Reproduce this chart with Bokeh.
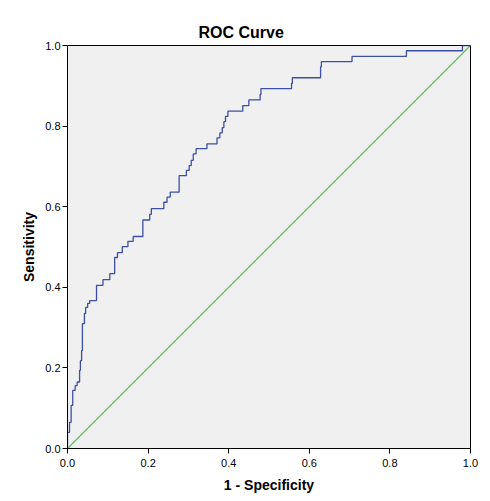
from bokeh.plotting import figure
from bokeh.models import Range1d, FixedTicker, NumeralTickFormatter
from bokeh.embed import file_html
from bokeh.resources import INLINE

# ROC curve corner points (1 - specificity, sensitivity)
fpr = [0, 0, 0.005, 0.005, 0.009, 0.009, 0.013, 0.013, 0.019, 0.019, 0.024, 0.024,
       0.03, 0.03, 0.032, 0.032, 0.035, 0.035, 0.037, 0.037, 0.042, 0.042, 0.045, 0.045,
       0.05, 0.05, 0.055, 0.055, 0.072, 0.072, 0.088, 0.088, 0.105, 0.105, 0.117, 0.117,
       0.124, 0.124, 0.136, 0.136, 0.150, 0.150, 0.163, 0.163, 0.187, 0.187, 0.204, 0.204,
       0.208, 0.208, 0.239, 0.239, 0.247, 0.247, 0.255, 0.255, 0.277, 0.277, 0.295, 0.295,
       0.302, 0.302, 0.307, 0.307, 0.312, 0.312, 0.319, 0.319, 0.346, 0.346, 0.371, 0.371,
       0.378, 0.378, 0.384, 0.384, 0.388, 0.388, 0.392, 0.392, 0.398, 0.398, 0.435, 0.435,
       0.45, 0.45, 0.478, 0.478, 0.48, 0.48, 0.556, 0.556, 0.558, 0.558, 0.628, 0.628,
       0.63, 0.63, 0.706, 0.706, 0.841, 0.841, 0.98, 0.98, 1.0]
tpr = [0, 0.04, 0.04, 0.065, 0.065, 0.107, 0.107, 0.144, 0.144, 0.156, 0.156, 0.165,
       0.165, 0.194, 0.194, 0.218, 0.218, 0.243, 0.243, 0.31, 0.31, 0.335, 0.335, 0.35,
       0.35, 0.36, 0.36, 0.367, 0.367, 0.405, 0.405, 0.419, 0.419, 0.434, 0.434, 0.474,
       0.474, 0.486, 0.486, 0.501, 0.501, 0.514, 0.514, 0.526, 0.526, 0.567, 0.567, 0.581,
       0.581, 0.595, 0.595, 0.611, 0.611, 0.624, 0.624, 0.636, 0.636, 0.677, 0.677, 0.69,
       0.69, 0.702, 0.702, 0.715, 0.715, 0.731, 0.731, 0.744, 0.744, 0.756, 0.756, 0.771,
       0.771, 0.783, 0.783, 0.796, 0.796, 0.811, 0.811, 0.824, 0.824, 0.837, 0.837, 0.851,
       0.851, 0.865, 0.865, 0.879, 0.879, 0.893, 0.893, 0.906, 0.906, 0.920, 0.920, 0.947,
       0.947, 0.960, 0.960, 0.973, 0.973, 0.987, 0.987, 1.0, 1.0]

ref_x = [0, 1]
ref_y = [0, 1]
ticks = [0, 0.2, 0.4, 0.6, 0.8, 1.0]

p = figure(width=482, height=493, frame_width=403, frame_height=403,
           x_range=Range1d(0, 1), y_range=Range1d(0, 1),
           output_backend="svg", toolbar_location=None,
           min_border_left=67, min_border_top=45, min_border_right=12, min_border_bottom=45,
           title="ROC Curve")

p.background_fill_color = "#f0f0f0"
p.border_fill_color = "white"
p.outline_line_color = "black"
p.outline_line_width = 1
p.xgrid.visible = False
p.ygrid.visible = False

p.title.text_font = "Liberation Sans"
p.title.text_font_size = "16px"
p.title.text_font_style = "bold"
p.title.align = "left"
p.title.offset = 131
p.title.text_color = "black"

for ax in (p.xaxis[0], p.yaxis[0]):
    ax.ticker = FixedTicker(ticks=ticks)
    ax.formatter = NumeralTickFormatter(format="0.0")
    ax.major_tick_in = 0
    ax.major_tick_out = 5
    ax.minor_tick_out = 0
    ax.minor_tick_in = 0
    ax.axis_line_color = "black"
    ax.major_tick_line_color = "black"
    ax.major_label_text_font = "Liberation Sans"
    ax.major_label_text_font_size = "11px"
    ax.major_label_text_color = "black"
    ax.axis_label_text_font = "Liberation Sans"
    ax.axis_label_text_font_size = "14px"
    ax.axis_label_text_font_style = "bold"
    ax.axis_label_text_color = "black"

p.xaxis.axis_label = "1 - Specificity"
p.yaxis.axis_label = "Sensitivity"
p.xaxis.major_label_standoff = 5
p.yaxis.major_label_standoff = 2
p.xaxis.axis_label_standoff = 7
p.yaxis.axis_label_standoff = 5

p.line(ref_x, ref_y, line_color="#55c455", line_width=1.1)
p.line(fpr, tpr, line_color="#3d4fa3", line_width=1.3)

open("out.html", "w").write(file_html(p, INLINE))
